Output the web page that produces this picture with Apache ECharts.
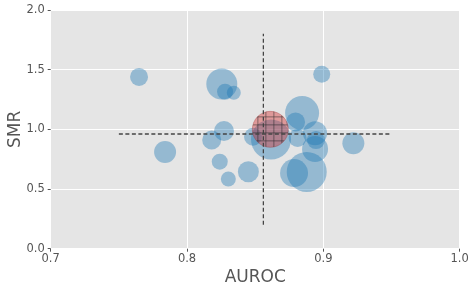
<!DOCTYPE html>
<html>
<head>
<meta charset="utf-8">
<script src="https://cdn.jsdelivr.net/npm/echarts@6/dist/echarts.min.js"></script>
<style>html,body{margin:0;padding:0;background:#fff}#c{width:474px;height:291px}</style>
</head>
<body>
<div id="c"></div>
<script>
// Blue bubbles: AUROC, SMR, bubble diameter
const auroc = [0.7648, 0.7839, 0.8255, 0.8279, 0.8343, 0.8988, 0.8844, 0.8796, 0.8271, 0.8181, 0.8240, 0.8303, 0.8450, 0.8484, 0.8616, 0.8811, 0.8939, 0.8946, 0.8939, 0.8785, 0.8878, 0.9220];
const smr   = [1.439, 0.810, 1.380, 1.315, 1.307, 1.461, 1.137, 1.062, 0.986, 0.911, 0.729, 0.584, 0.645, 0.938, 0.915, 0.928, 0.968, 0.910, 0.835, 0.634, 0.643, 0.883];
const bubbleSize = [18, 22, 31, 16, 14, 17, 34, 19, 20, 19, 16, 15, 21, 18, 40, 18, 24, 18, 26, 28, 40, 22];
// Highlighted (red, hatched) bubble
const refAuroc = [0.8611];
const refSmr = [1.0];
const refSize = [36];
// Reference dashed lines
const hLineX = [0.75, 0.95];
const hLineY = 0.961;
const vLineX = 0.856;
const vLineY = [0.2, 1.8];
// Axis ticks
const xTicks = [0.7, 0.8, 0.9, 1.0];
const yTicks = [0.0, 0.5, 1.0, 1.5, 2.0];

const blueData = auroc.map((x, i) => [x, smr[i], bubbleSize[i]]);
const redData = refAuroc.map((x, i) => [x, refSmr[i], refSize[i]]);
const hData = hLineX.map(x => [x, hLineY]);
const vData = vLineY.map(y => [vLineX, y]);

// hatch pattern for the red bubble
const pc = document.createElement('canvas');
pc.width = 8; pc.height = 8;
const g = pc.getContext('2d');
g.fillStyle = 'rgba(214,39,40,0.5)';
g.fillRect(0, 0, 8, 8);
g.fillStyle = 'rgba(40,20,20,0.65)';
g.fillRect(0, 3, 8, 1);
g.fillRect(3, 0, 1, 8);
const symScale = refSize[0] / 2; // symbols are unit shapes scaled by half their size

const FONT = 'DejaVu Sans';
const chart = echarts.init(document.getElementById('c'), null, {renderer: 'canvas'});
chart.setOption({
  animation: false,
  backgroundColor: '#ffffff',
  grid: {left: 50.7, right: 14.3, top: 10, bottom: 42.3, containLabel: false, outerBoundsMode: 'none',
         show: true, backgroundColor: '#e5e5e5', borderWidth: 0},
  xAxis: {
    type: 'value', min: xTicks[0], max: xTicks[xTicks.length - 1], interval: 0.1,
    name: 'AUROC', nameLocation: 'middle', nameGap: 20, nameMoveOverlap: false,
    nameTextStyle: {fontFamily: FONT, fontSize: 17, color: '#555555'},
    axisLine: {show: false},
    axisTick: {show: true, length: 3, lineStyle: {color: '#555555', width: 1}},
    axisLabel: {fontFamily: FONT, fontSize: 11.5, color: '#555555', margin: 4, formatter: v => v.toFixed(1)},
    splitLine: {show: true, lineStyle: {color: '#ffffff', width: 1}}
  },
  yAxis: {
    type: 'value', min: yTicks[0], max: yTicks[yTicks.length - 1], interval: 0.5,
    name: 'SMR', nameLocation: 'middle', nameGap: 27, nameRotate: 90, nameMoveOverlap: false,
    nameTextStyle: {fontFamily: FONT, fontSize: 17, color: '#555555'},
    axisLine: {show: false},
    axisTick: {show: true, length: 3, lineStyle: {color: '#555555', width: 1}},
    axisLabel: {fontFamily: FONT, fontSize: 11.5, color: '#555555', margin: 6, formatter: v => v.toFixed(1)},
    splitLine: {show: true, lineStyle: {color: '#ffffff', width: 1}}
  },
  series: [
    {
      type: 'scatter', data: blueData, symbol: 'circle',
      symbolSize: d => d[2],
      itemStyle: {color: 'rgba(31,119,180,0.5)'},
      z: 2
    },
    {
      type: 'scatter', data: redData, symbol: 'circle',
      symbolSize: d => d[2],
      itemStyle: {color: {image: pc, repeat: 'repeat', scaleX: 1 / symScale, scaleY: 1 / symScale},
                  borderColor: 'rgba(150,40,40,0.5)', borderWidth: 0.8},
      z: 3
    },
    {
      type: 'line', data: hData, symbol: 'none',
      lineStyle: {color: '#444444', width: 1.3, type: [4, 2.5]}, z: 4
    },
    {
      type: 'line', data: vData, symbol: 'none',
      lineStyle: {color: '#444444', width: 1.3, type: [4, 2.5]}, z: 4
    }
  ]
});
</script>
</body>
</html>
